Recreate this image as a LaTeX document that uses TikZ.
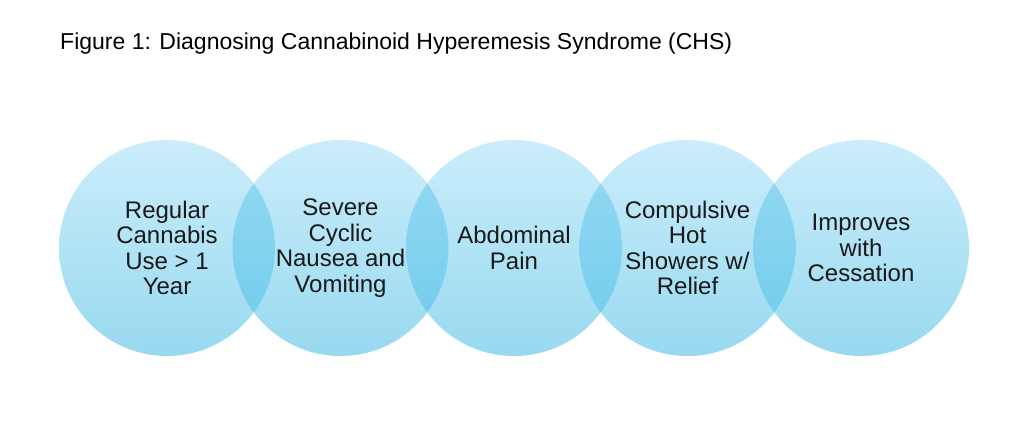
\documentclass[tikz,border=0pt]{standalone}
\usepackage{fontspec}
\setmainfont{Liberation Sans}
\usetikzlibrary{positioning}
\definecolor{cirtop}{RGB}{203,237,251}
\definecolor{cirbot}{RGB}{152,217,240}
\definecolor{lenstop}{RGB}{152,218,243}
\definecolor{lensbot}{RGB}{110,202,236}
\tikzset{
  circ/.style={
    circle, inner sep=0pt, minimum size=216pt,
    top color=cirtop, bottom color=cirbot, draw=none
  },
  lens/.style={top color=lenstop, bottom color=lensbot},
  txt/.style={
    align=center, inner sep=0pt, text=black!90,
    font=\fontsize{24}{25.5}\selectfont
  },
  ttl/.style={font=\fontsize{23}{26}\selectfont, inner sep=0pt, anchor=base west}
}
\begin{document}
\begin{tikzpicture}[x=1pt,y=-1pt]
  \useasboundingbox[fill=white] (0,0) rectangle (1024,437);
  \node[ttl] (title) at (60,49) {Figure 1: Diagnosing Cannabinoid Hyperemesis Syndrome (CHS)};
  \node[circ] (c1) at (167,248) {};
  \node[circ] (c2) at (340.5,248) {};
  \node[circ] (c3) at (514,248) {};
  \node[circ] (c4) at (687.5,248) {};
  \node[circ] (c5) at (861,248) {};
  \begin{scope}
    \clip (c1.center) circle (108);
    \shade[lens] (c2.center) circle (108);
  \end{scope}
  \begin{scope}
    \clip (c2.center) circle (108);
    \shade[lens] (c3.center) circle (108);
  \end{scope}
  \begin{scope}
    \clip (c3.center) circle (108);
    \shade[lens] (c4.center) circle (108);
  \end{scope}
  \begin{scope}
    \clip (c4.center) circle (108);
    \shade[lens] (c5.center) circle (108);
  \end{scope}
  \node[txt] (t1) at (c1) {Regular\\Cannabis\\Use > 1\\Year};
  \node[txt] (t2) at (c2) {Severe\\Cyclic\\Nausea and\\Vomiting};
  \node[txt] (t3) at (c3) {Abdominal\\Pain};
  \node[txt] (t4) at (c4) {Compulsive\\Hot\\Showers w/\\Relief};
  \node[txt] (t5) at (c5) {Improves\\with\\Cessation};
\end{tikzpicture}
\end{document}
